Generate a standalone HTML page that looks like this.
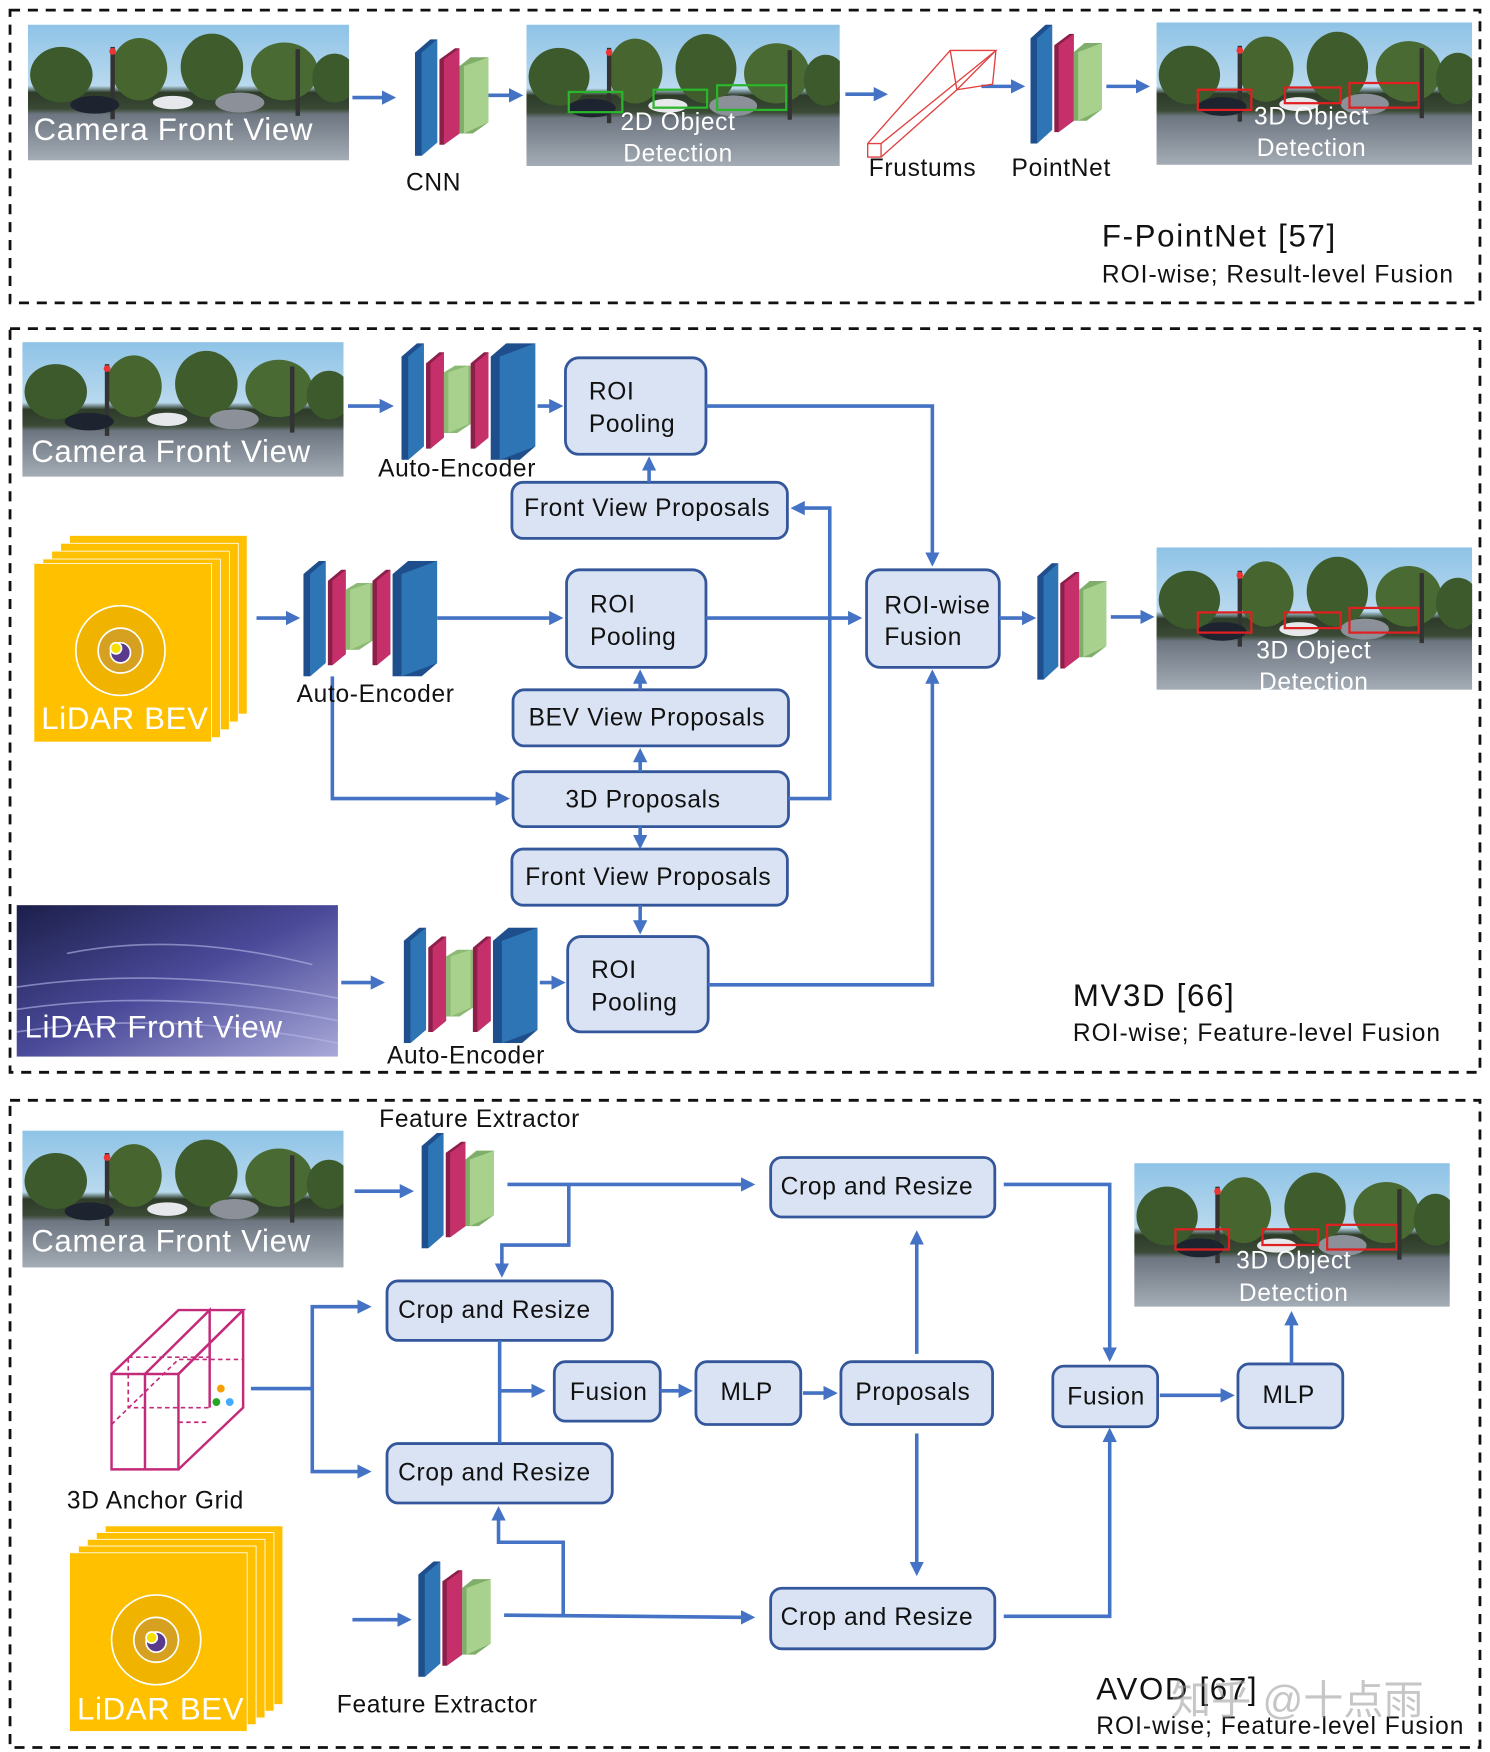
<!DOCTYPE html>
<html><head><meta charset="utf-8"><style>
html,body{margin:0;padding:0;background:#fff;}
svg{display:block;}
text{font-family:"Liberation Sans","Noto Sans CJK SC",sans-serif;}
</style></head><body>
<svg width="1490" height="1752" viewBox="0 0 1336 1562" preserveAspectRatio="none" xmlns="http://www.w3.org/2000/svg">
<defs>
<marker id="ar" markerWidth="4" markerHeight="4" refX="3" refY="2" orient="auto" markerUnits="strokeWidth"><path d="M0,0 L4,2 L0,4 z" fill="#4472c4"/></marker>
<linearGradient id="sky" x1="0" y1="0" x2="0" y2="1"><stop offset="0" stop-color="#8ec3e6"/><stop offset="0.45" stop-color="#b9d9ee"/><stop offset="0.5" stop-color="#2d3b28"/><stop offset="0.62" stop-color="#3a4a35"/><stop offset="0.66" stop-color="#6d7680"/><stop offset="1" stop-color="#a4acb6"/></linearGradient>
<symbol id="photo" viewBox="0 0 288 122" preserveAspectRatio="none">
<rect width="288" height="122" fill="url(#sky)"/>
<ellipse cx="30" cy="45" rx="28" ry="25" fill="#3c5a2c"/><ellipse cx="100" cy="40" rx="25" ry="28" fill="#46652f"/><ellipse cx="165" cy="38" rx="28" ry="30" fill="#3f5d2c"/><ellipse cx="230" cy="42" rx="30" ry="26" fill="#4a6a33"/><ellipse cx="275" cy="48" rx="20" ry="22" fill="#3c5a2c"/>
<rect x="74" y="20" width="4" height="65" fill="#333"/><rect x="240" y="22" width="4" height="60" fill="#333"/><circle cx="76" cy="24" r="3" fill="#e33"/>
<ellipse cx="60" cy="72" rx="22" ry="8" fill="#1e2330"/><ellipse cx="130" cy="70" rx="18" ry="6" fill="#e6e8ec"/><ellipse cx="190" cy="70" rx="22" ry="9" fill="#8b9099"/>
</symbol>
<symbol id="bev" viewBox="0 0 160 160" preserveAspectRatio="none">
<rect width="160" height="160" fill="#ffc000"/>
<circle cx="78" cy="78" r="40" fill="#f0b400"/><circle cx="78" cy="78" r="20" fill="#d6a020"/><circle cx="78" cy="80" r="9" fill="#5a3a8c"/><circle cx="74" cy="76" r="5" fill="#f5e000"/>
</symbol>
<symbol id="enc" viewBox="0 0 66 104" preserveAspectRatio="none">
<polygon points="0,12 14,0 20,0 20,92 6,104 0,104" fill="#1f4e8c"/><polygon points="6,12 20,0 20,92 6,104" fill="#2e75b6"/>
<polygon points="22,18 36,8 40,8 40,84 26,94 22,94" fill="#8c1f4a"/><polygon points="26,18 40,8 40,84 26,94" fill="#c5306a"/>
<polygon points="40,24 50,16 66,16 66,74 52,84 40,84" fill="#7fae6a"/><polygon points="44,24 66,16 66,74 44,84" fill="#a9d18e"/>
</symbol>
<symbol id="ae" viewBox="0 0 120 104" preserveAspectRatio="none">
<polygon points="0,12 14,0 20,0 20,92 6,104 0,104" fill="#1f4e8c"/><polygon points="6,12 20,0 20,92 6,104" fill="#2e75b6"/>
<polygon points="22,18 34,8 38,8 38,84 26,94 22,94" fill="#8c1f4a"/><polygon points="26,18 38,8 38,84 26,94" fill="#c5306a"/>
<polygon points="38,26 48,20 62,20 62,72 50,80 38,80" fill="#8cb974"/><polygon points="42,26 60,20 60,72 42,80" fill="#a9d18e"/>
<polygon points="62,18 74,8 78,8 78,84 66,94 62,94" fill="#8c1f4a"/><polygon points="66,18 78,8 78,84 66,94" fill="#c5306a"/>
<polygon points="80,12 94,0 120,0 120,92 106,104 80,104" fill="#1f4e8c"/><polygon points="88,12 120,0 120,92 88,104" fill="#2e75b6"/>
</symbol>
</defs>
<g fill="none" stroke="#111" stroke-width="2.5" stroke-dasharray="9,7">
<rect x="9" y="9" width="1318" height="261"/><rect x="9" y="293" width="1318" height="663"/><rect x="9" y="981" width="1318" height="577"/>
</g>
<g fill="#dae3f3" stroke="#34579c" stroke-width="2.5">
<rect x="507" y="319" width="126" height="86" rx="12"/><rect x="459" y="430" width="247" height="50" rx="10"/>
<rect x="508" y="508" width="125" height="87" rx="12"/><rect x="777" y="508" width="119" height="87" rx="12"/>
<rect x="460" y="615" width="247" height="50" rx="10"/><rect x="460" y="688" width="247" height="49" rx="10"/>
<rect x="459" y="757" width="247" height="50" rx="10"/><rect x="509" y="835" width="126" height="85" rx="12"/>
<rect x="691" y="1032" width="201" height="53" rx="10"/><rect x="347" y="1142" width="202" height="53" rx="10"/>
<rect x="347" y="1287" width="202" height="53" rx="10"/><rect x="497" y="1214" width="95" height="53" rx="10"/>
<rect x="624" y="1214" width="94" height="56" rx="10"/><rect x="754" y="1214" width="136" height="56" rx="10"/>
<rect x="691" y="1416" width="201" height="54" rx="10"/><rect x="944" y="1218" width="94" height="54" rx="10"/>
<rect x="1110" y="1216" width="94" height="57" rx="10"/>
</g>
<g fill="none" stroke="#4472c4" stroke-width="3.2" marker-end="url(#ar)">
<path d="M316,87H352"/><path d="M430,85H466"/><path d="M758,84H793"/><path d="M880,77H916"/><path d="M992,77H1028"/>
<path d="M312,362H350"/><path d="M482,362H502"/><path d="M633,362H836V502"/><path d="M582,430V410"/>
<path d="M230,551H266"/><path d="M392,551H502"/><path d="M633,551H770"/><path d="M574,615V600"/><path d="M574,688V670"/>
<path d="M707,712H744V453H712"/><path d="M298,603V712H454"/><path d="M574,737V754"/><path d="M574,807V830"/>
<path d="M635,878H836V600"/><path d="M306,876H342"/><path d="M484,876H504"/><path d="M896,551H926"/><path d="M996,550H1032"/>
<path d="M318,1062H368"/><path d="M455,1056H674"/><path d="M510,1056V1110H450V1136"/>
<path d="M225,1238H280V1165H330"/><path d="M280,1238V1312H330"/><path d="M448,1240H486"/>
<path d="M592,1240H618"/><path d="M720,1242H748"/><path d="M822,1207V1100"/><path d="M822,1278V1402"/>
<path d="M316,1444H366"/><path d="M452,1440L674,1442"/><path d="M505,1440V1375H447V1346"/>
<path d="M900,1056H995V1211"/><path d="M900,1441H995V1276"/><path d="M1040,1244H1104"/><path d="M1158,1216V1172"/>
</g>
<path d="M448,1195V1287" stroke="#4472c4" stroke-width="3.2"/>
<use href="#photo" x="25" y="22" width="288" height="121"/>
<use href="#photo" x="472" y="22" width="281" height="126"/>
<use href="#photo" x="1037" y="20" width="283" height="127"/>
<use href="#photo" x="20" y="305" width="288" height="120"/>
<use href="#photo" x="1037" y="488" width="283" height="127"/>
<use href="#photo" x="20" y="1008" width="288" height="122"/>
<use href="#photo" x="1017" y="1037" width="283" height="128"/>
<g fill="none" stroke="#2bb52b" stroke-width="2"><rect x="510" y="82" width="48" height="18"/><rect x="586" y="80" width="48" height="16"/><rect x="643" y="76" width="62" height="22"/></g>
<g fill="none" stroke="#e02020" stroke-width="2">
<rect x="1074" y="80" width="48" height="18"/><rect x="1152" y="78" width="50" height="14"/><rect x="1210" y="74" width="62" height="22"/>
<rect x="1074" y="546" width="48" height="18"/><rect x="1152" y="546" width="50" height="14"/><rect x="1210" y="542" width="62" height="22"/>
<rect x="1054" y="1096" width="48" height="18"/><rect x="1132" y="1096" width="50" height="14"/><rect x="1190" y="1092" width="62" height="22"/>
</g>
<defs><linearGradient id="lfv" x1="0" y1="0" x2="1" y2="1"><stop offset="0" stop-color="#1c1f4a"/><stop offset="0.5" stop-color="#4a4a9a"/><stop offset="1" stop-color="#a9a9d9"/></linearGradient></defs>
<rect x="15" y="807" width="288" height="135" fill="url(#lfv)"/>
<g fill="none" stroke="#b8b8e8" stroke-width="1.5" opacity="0.6"><path d="M15,880 Q150,860 303,890"/><path d="M15,900 Q150,880 303,910"/><path d="M15,920 Q150,900 303,930"/><path d="M60,850 Q160,830 280,860"/></g>
<g stroke="#fff" stroke-width="1.5">
<use href="#bev" x="62" y="477" width="160" height="160"/><use href="#bev" x="54" y="484" width="160" height="160"/><use href="#bev" x="46" y="491" width="160" height="160"/><use href="#bev" x="38" y="498" width="160" height="160"/><use href="#bev" x="30" y="502" width="160" height="160"/>
<use href="#bev" x="94" y="1360" width="160" height="160"/><use href="#bev" x="86" y="1366" width="160" height="160"/><use href="#bev" x="78" y="1372" width="160" height="160"/><use href="#bev" x="70" y="1378" width="160" height="160"/><use href="#bev" x="62" y="1384" width="160" height="160"/>
</g>
<g fill="none" stroke="#e04040" stroke-width="1.2"><path d="M778,128L852,45H893L858,80L790,140H778Z"/><path d="M852,45L858,80"/><path d="M893,45L890,75L858,80"/><path d="M778,128L790,128L790,140"/><path d="M790,128L893,45"/></g>
<g fill="none" stroke="#c42a7a" stroke-width="2.2"><path d="M100,1225H160V1310H100Z"/><path d="M100,1225L160,1168H218L160,1225"/><path d="M218,1168V1255L160,1310"/><path d="M130,1225V1310"/><path d="M130,1225L188,1168V1255"/><path d="M160,1225L218,1168"/></g>
<g fill="none" stroke="#c42a7a" stroke-width="1.5" stroke-dasharray="4,3"><path d="M100,1270L160,1212H218"/><path d="M115,1210H188V1255H115Z"/><path d="M160,1268H188"/></g>
<circle cx="198" cy="1238" r="3.5" fill="#f5a000"/><circle cx="194" cy="1250" r="3.5" fill="#2a2"/><circle cx="206" cy="1250" r="3.5" fill="#4af"/>
<use href="#enc" x="372" y="35" width="66" height="104"/>
<use href="#enc" x="924" y="22" width="64" height="106"/>
<use href="#ae" x="360" y="306" width="120" height="104"/>
<use href="#ae" x="272" y="500" width="120" height="103"/>
<use href="#ae" x="362" y="827" width="120" height="103"/>
<use href="#enc" x="930" y="502" width="62" height="104"/>
<use href="#enc" x="378" y="1010" width="65" height="103"/>
<use href="#enc" x="375" y="1392" width="65" height="103"/>
<g fill="#fff" font-size="28" letter-spacing="0.6">
<text x="30" y="125">Camera Front View</text><text x="28" y="412">Camera Front View</text><text x="28" y="1116">Camera Front View</text>
<text x="22" y="925">LiDAR Front View</text><text x="37" y="650">LiDAR BEV</text><text x="69" y="1533">LiDAR BEV</text>
</g>
<g fill="#fff" font-size="22" text-anchor="middle" letter-spacing="0.6">
<text x="608" y="116">2D Object</text><text x="608" y="144">Detection</text>
<text x="1176" y="111">3D Object</text><text x="1176" y="139">Detection</text>
<text x="1178" y="587">3D Object</text><text x="1178" y="615">Detection</text>
<text x="1160" y="1131">3D Object</text><text x="1160" y="1160">Detection</text>
</g>
<g fill="#111" font-size="22" letter-spacing="0.6">
<text x="364" y="170">CNN</text><text x="779" y="157">Frustums</text><text x="907" y="157">PointNet</text>
<text x="339" y="425">Auto-Encoder</text><text x="266" y="626">Auto-Encoder</text><text x="347" y="948">Auto-Encoder</text>
<text x="528" y="356">ROI</text><text x="528" y="385">Pooling</text>
<text x="529" y="546">ROI</text><text x="529" y="575">Pooling</text>
<text x="530" y="872">ROI</text><text x="530" y="901">Pooling</text>
<text x="793" y="547">ROI-wise</text><text x="793" y="575">Fusion</text>
<text x="470" y="460">Front View Proposals</text><text x="474" y="647">BEV View Proposals</text>
<text x="507" y="720">3D  Proposals</text><text x="471" y="789">Front View Proposals</text>
<text x="340" y="1005">Feature Extractor</text><text x="302" y="1527">Feature Extractor</text><text x="60" y="1345">3D Anchor Grid</text>
<text x="700" y="1065">Crop and Resize</text><text x="357" y="1175">Crop and Resize</text><text x="357" y="1320">Crop and Resize</text><text x="700" y="1449">Crop and Resize</text>
<text x="511" y="1248">Fusion</text><text x="646" y="1248">MLP</text><text x="767" y="1248">Proposals</text><text x="957" y="1252">Fusion</text><text x="1132" y="1251">MLP</text>
</g>
<g fill="#111" font-size="22" letter-spacing="0.9">
<text x="988" y="252">ROI-wise; Result-level Fusion</text><text x="962" y="928">ROI-wise; Feature-level Fusion</text><text x="983" y="1546">ROI-wise; Feature-level Fusion</text>
</g>
<g fill="#111" font-size="28" letter-spacing="1.5"><text x="988" y="220">F-PointNet [57]</text><text x="962" y="897">MV3D [66]</text><text x="983" y="1515">AVOD [67]</text></g>
<text x="1050" y="1528" font-size="36" fill="#999" opacity="0.55">知乎 @十点雨</text>
</svg>
</body></html>
